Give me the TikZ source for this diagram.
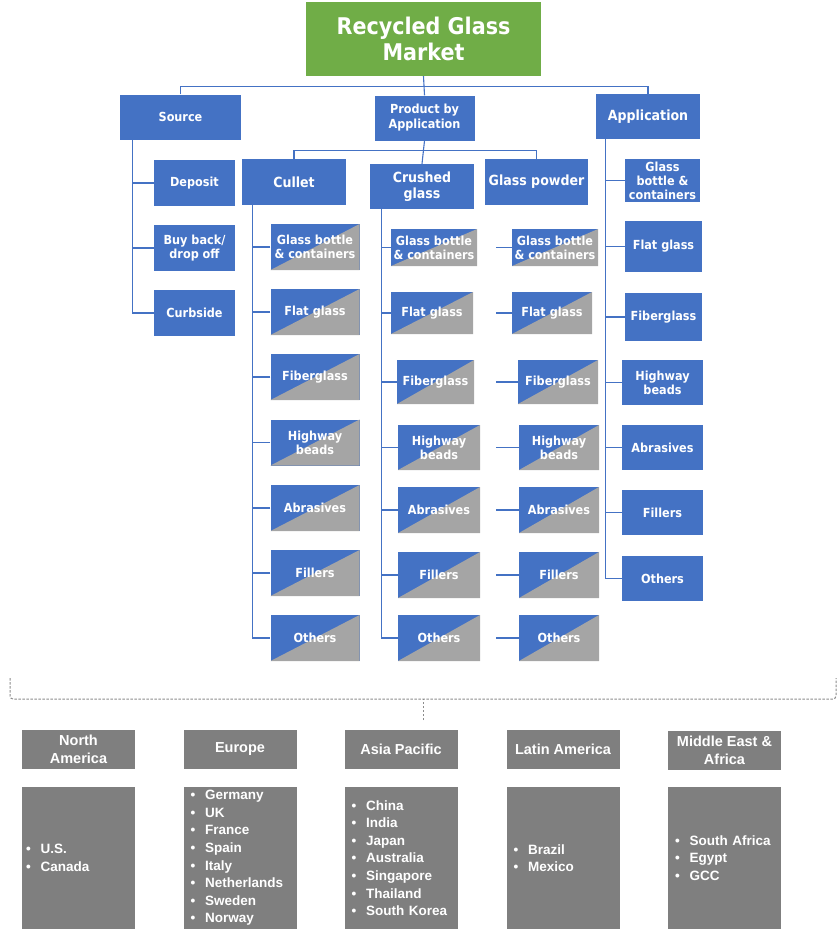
\documentclass[tikz,border=0pt]{standalone}
\usepackage{fontspec}
\newfontfamily\boxfont{DejaVu Sans}[FakeStretch=0.9]
\newfontfamily\regionfont{Liberation Sans}
\usetikzlibrary{positioning}

\definecolor{boxblue}{HTML}{4472C4}
\definecolor{boxgray}{HTML}{A5A5A5}
\definecolor{titlegreen}{HTML}{70AD47}
\definecolor{regiongray}{HTML}{7F7F7F}
\definecolor{bracegray}{HTML}{8C8C8C}

\begin{document}
\begin{tikzpicture}[
				x=1pt, y=-1pt,
				boxsize/.style 2 args={minimum width=#1pt, minimum height=#2pt},
				block/.style={rectangle, fill=boxblue, text=white, align=center, inner sep=1pt,
					font=\boxfont\bfseries\fontsize{12.5}{14}\selectfont},
				bigblock/.style={block, font=\boxfont\bfseries\fontsize{14}{15.5}\selectfont},
				titleblock/.style={block, fill=titlegreen, font=\boxfont\bfseries\fontsize{23}{26}\selectfont},
				split/.style={block, path picture={
					\fill[boxgray] (path picture bounding box.south west) -- (path picture bounding box.north east)
						-- (path picture bounding box.south east) -- cycle;}},
				region/.style={rectangle, fill=regiongray, text=white, align=center, inner sep=1pt,
					minimum width=113pt, minimum height=39pt,
					font=\regionfont\bfseries\fontsize{14.5}{18}\selectfont},
				regionlist/.style={rectangle, fill=regiongray, text=white, align=left, inner xsep=7pt, inner ysep=0pt,
					text width=99pt, minimum height=142pt,
					font=\regionfont\bfseries\fontsize{13.5}{17.6}\selectfont},
				link/.style={draw=boxblue, line width=1.1pt},
				brace/.style={draw=bracegray, line width=1pt, dash pattern=on 2.5pt off 1.5pt, rounded corners=3pt}
				]
				\useasboundingbox (0,0) rectangle (839,937);
				\newcommand{\bul}{\textbullet\hspace{10pt}}

				% Nodes
				\node (title) [titleblock, boxsize={235}{74}] at (423.5,39) {Recycled Glass\\Market};
				\node (source) [block, boxsize={121}{45}] at (180.5,117) {Source};
				\node (product) [block, boxsize={100}{45}, font=\boxfont\bfseries\fontsize{12.5}{15}\selectfont] at (424.5,118) {Product by\\Application};
				\node (application) [bigblock, boxsize={104}{45}] at (648,116.5) {Application};

				\node (deposit) [block, boxsize={81}{46}] at (194.5,183) {Deposit};
				\node (buyback) [block, boxsize={81}{46}] at (194.5,248) {Buy back/\\drop off};
				\node (curbside) [block, boxsize={81}{46}] at (194.5,313) {Curbside};

				\node (cullet) [bigblock, boxsize={104}{46}] at (294,182) {Cullet};
				\node (crushed) [bigblock, boxsize={104}{45}] at (422,186.5) {Crushed\\glass};
				\node (powder) [bigblock, boxsize={103}{46}] at (536.5,182) {Glass powder};

				\node (cullet1) [split, boxsize={89}{46}] at (315,247) {Glass bottle\\\& containers};
				\node (cullet2) [split, boxsize={89}{46}] at (315,312) {Flat glass};
				\node (cullet3) [split, boxsize={89}{46}] at (315,377) {Fiberglass};
				\node (cullet4) [split, boxsize={89}{46}] at (315,442.5) {Highway\\beads};
				\node (cullet5) [split, boxsize={89}{46}] at (315,508) {Abrasives};
				\node (cullet6) [split, boxsize={89}{46}] at (315,573) {Fillers};
				\node (cullet7) [split, boxsize={89}{46}] at (315,638) {Others};

				\node (crushed1) [split, boxsize={86}{37}] at (434,247.5) {Glass bottle\\\& containers};
				\node (crushed2) [split, boxsize={82}{42}] at (432,313) {Flat glass};
				\node (crushed3) [split, boxsize={77}{44}] at (435.5,382) {Fiberglass};
				\node (crushed4) [split, boxsize={82}{45}] at (439,447.5) {Highway\\beads};
				\node (crushed5) [split, boxsize={82}{46}] at (439,510) {Abrasives};
				\node (crushed6) [split, boxsize={82}{46}] at (439,575) {Fillers};
				\node (crushed7) [split, boxsize={82}{46}] at (439,638) {Others};

				\node (powder1) [split, boxsize={86}{37}] at (555,247.5) {Glass bottle\\\& containers};
				\node (powder2) [split, boxsize={80}{42}] at (552,313) {Flat glass};
				\node (powder3) [split, boxsize={80}{44}] at (558,382) {Fiberglass};
				\node (powder4) [split, boxsize={80}{45}] at (559,447.5) {Highway\\beads};
				\node (powder5) [split, boxsize={80}{46}] at (559,510) {Abrasives};
				\node (powder6) [split, boxsize={80}{46}] at (559,575) {Fillers};
				\node (powder7) [split, boxsize={80}{46}] at (559,638) {Others};

				\node (app1) [block, boxsize={75}{43}] at (662.5,180.5) {Glass\\bottle \&\\containers};
				\node (app2) [block, boxsize={77}{51}] at (663.5,246.5) {Flat glass};
				\node (app3) [block, boxsize={77}{48}] at (663.5,317) {Fiberglass};
				\node (app4) [block, boxsize={81}{45}] at (662.5,382.5) {Highway\\beads};
				\node (app5) [block, boxsize={81}{45}] at (662.5,447.5) {Abrasives};
				\node (app6) [block, boxsize={81}{45}] at (662.5,512.5) {Fillers};
				\node (app7) [block, boxsize={81}{45}] at (662.5,578.5) {Others};

				% Regions
				\node (na) [region] at (78.5,749.5) {North\\America};
				\node (eu) [region] at (240,749.5) {Europe};
				\node (ap) [region] at (401,749.5) {Asia Pacific};
				\node (la) [region] at (563,749.5) {Latin America};
				\node (mea) [region] at (724.5,750.5) {Middle East \&\\Africa};

				\node (nalist) [regionlist, inner xsep=4pt, text width=105pt] at (78.5,858) {\bul U.S.\\\bul Canada};
				\node (eulist) [regionlist] at (240,858) {\bul Germany\\\bul UK\\\bul France\\\bul Spain\\\bul Italy\\\bul Netherlands\\\bul Sweden\\\bul Norway};
				\node (aplist) [regionlist] at (401,858) {\bul China\\\bul India\\\bul Japan\\\bul Australia\\\bul Singapore\\\bul Thailand\\\bul South Korea};
				\node (lalist) [regionlist] at (563,858) {\bul Brazil\\\bul Mexico};
				\node (mealist) [regionlist] at (724.5,858) {\bul South Africa\\\bul Egypt\\\bul GCC};

				% Arrows
				\coordinate (tophub) at ([yshift=-10pt]title.south);
				\draw [link] (title.south) -- (product.north);
				\draw [link] (source.north) |- (tophub) -| (application.north);

				\coordinate (prodhub) at ([yshift=-9.5pt]product.south);
				\draw [link] (product.south) -- (crushed.north);
				\draw [link] (cullet.north) |- (prodhub) -| (powder.north);

				\coordinate (srcspine) at ([xshift=13pt]source.south west);
				\draw [link] (srcspine) |- (curbside.west);
				\draw [link] (deposit.west) -- (deposit.west -| srcspine);
				\draw [link] (buyback.west) -- (buyback.west -| srcspine);

				\coordinate (cullspine) at ([xshift=11pt]cullet.south west);
				\draw [link] (cullspine) |- (cullet7.west);
				\foreach \i in {1,...,6}
					\draw [link] (cullet\i.west) -- (cullet\i.west -| cullspine);

				\coordinate (crushspine) at ([xshift=12pt]crushed.south west);
				\draw [link] (crushspine) |- (crushed7.west);
				\foreach \i in {1,...,6}
					\draw [link] (crushed\i.west) -- (crushed\i.west -| crushspine);

				\coordinate (powderstub) at (496,0);
				\foreach \i in {1,...,7}
					\draw [link] (powder\i.west) -- (powder\i.west -| powderstub);

				\coordinate (appspine) at ([xshift=10pt]application.south west);
				\draw [link] (appspine) |- (app7.west);
				\foreach \i in {1,...,6}
					\draw [link] (app\i.west) -- (app\i.west -| appspine);

				% Brace
				\coordinate (braceL) at (10,678);
				\coordinate (braceR) at (836,678);
				\coordinate (braceB) at (10,699);
				\coordinate (braceM) at (423,720);
				\draw [brace] (braceL) -- (braceB) -| (braceR);
				\draw [brace] (braceM) -- (braceM |- braceB);
			\end{tikzpicture}
\end{document}
